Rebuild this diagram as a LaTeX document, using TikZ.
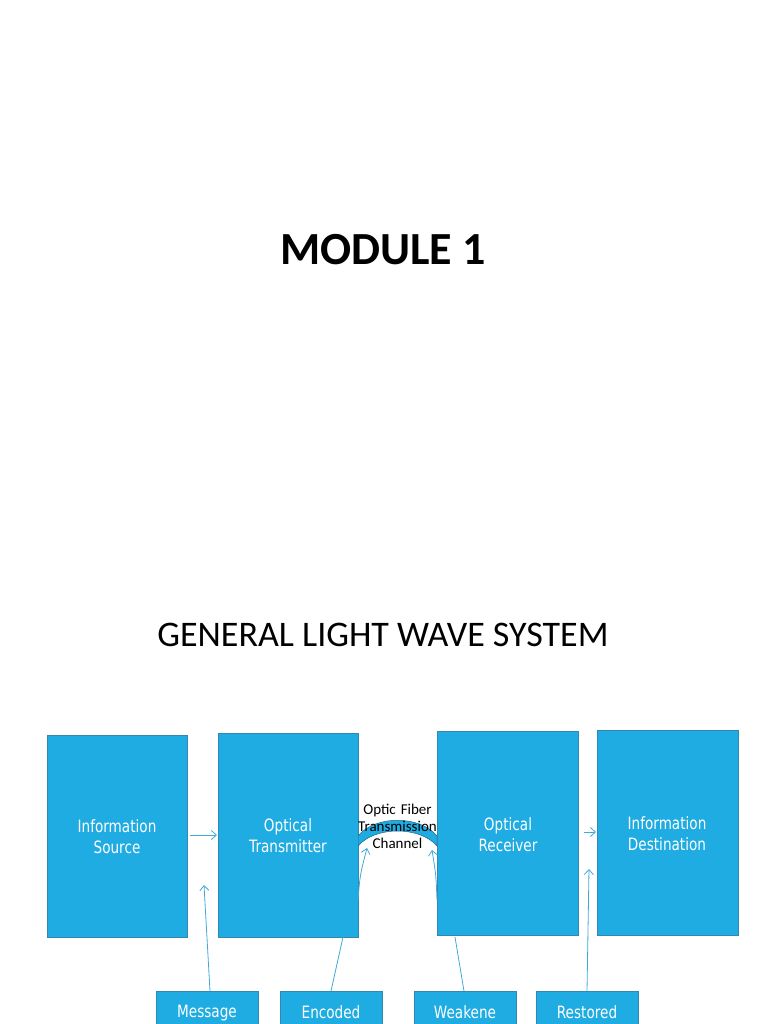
\documentclass[tikz,border=0pt]{standalone}
\usepackage{fontspec}
\setmainfont{Carlito}
\newfontfamily\boxfont{DejaVu Sans}[FakeStretch=0.8]
\usetikzlibrary{arrows.meta}
\definecolor{bblue}{HTML}{1FACE2}
\definecolor{lblue}{HTML}{41A9D9}
\tikzset{blk/.style={fill=bblue,draw=lblue!80!black,line width=0.6pt},
 btxt/.style={text=white,font=\boxfont\fontsize{17}{21}\selectfont,align=center},
 conn/.style={draw=lblue,line width=0.8pt},
 arr/.style={conn,-{Straight Barb[length=5pt,width=9pt]}}}
\begin{document}
\begin{tikzpicture}[x=1pt,y=-1pt]
\useasboundingbox (0,0) rectangle (768,1024);
\begin{scope}
\clip (0,0) rectangle (768,1024);
\node[font=\bfseries\fontsize{46}{50}\selectfont] (t1) at (383,250) {MODULE 1};
\node[font=\fontsize{36}{40}\selectfont] (t2) at (383,635) {GENERAL LIGHT WAVE SYSTEM};
\draw[blk] (47,735) rectangle (187,937);
\node[btxt] (src) at (117,837) {Information\\Source};
\draw[blk] (218,733) rectangle (358,937);
\node[btxt] (tx) at (288,836) {Optical\\Transmitter};
\draw[blk] (437,731) rectangle (578,935);
\node[btxt] (rx) at (508,835) {Optical\\Receiver};
\draw[blk] (597,730) rectangle (738,935);
\node[btxt] (dst) at (667,834) {Information\\Destination};
% fiber
\begin{scope}
\clip (358,780) rectangle (437,880);
\fill[bblue,draw=lblue!60!black,line width=0.5pt] (358,836) .. controls (375,815) and (420,815) .. (437,836) -- (437,846) .. controls (420,826) and (375,826) .. (358,846) -- cycle;
\node[font=\fontsize{15}{17}\selectfont,align=center,text width=120pt] (fib) at (397.5,826) {Optic Fiber\\Transmission\\Channel};
\end{scope}
\coordinate (a1) at (190,835); \coordinate (a2) at (217,835);
\draw[arr] (a1) -- (a2);
\coordinate (d1) at (584,832); \coordinate (d2) at (596,832);
\draw[arr] (d1) -- (d2);
% bottom boxes
\foreach \x/\n/\t in {156/m/Message,280/e/Encoded,414/w/Weakene,536/r/Restored}{
 \draw[blk] (\x,991) rectangle ++(102,50);
 \node[btxt,anchor=north] (\n) at (\x+51,1002) {\t};
}
\coordinate (m0) at (210,991); \coordinate (m1) at (204,885);
\draw[arr] (m0) -- (m1);
\coordinate (e0) at (331,991); \coordinate (e1) at (343,937);
\coordinate (e2) at (367,848);
\draw[conn] (e0) -- (e1);
\draw[arr] (358,900) .. controls (360,875) .. (e2);
\coordinate (w0) at (464,991); \coordinate (w1) at (455,937);
\draw[conn] (w0) -- (w1);
\draw[arr] (437,900) .. controls (436,875) .. (432,850);
\coordinate (r0) at (587,991); \coordinate (r1) at (589,869);
\draw[arr] (r0) -- (r1);
\end{scope}
\end{tikzpicture}
\end{document}
